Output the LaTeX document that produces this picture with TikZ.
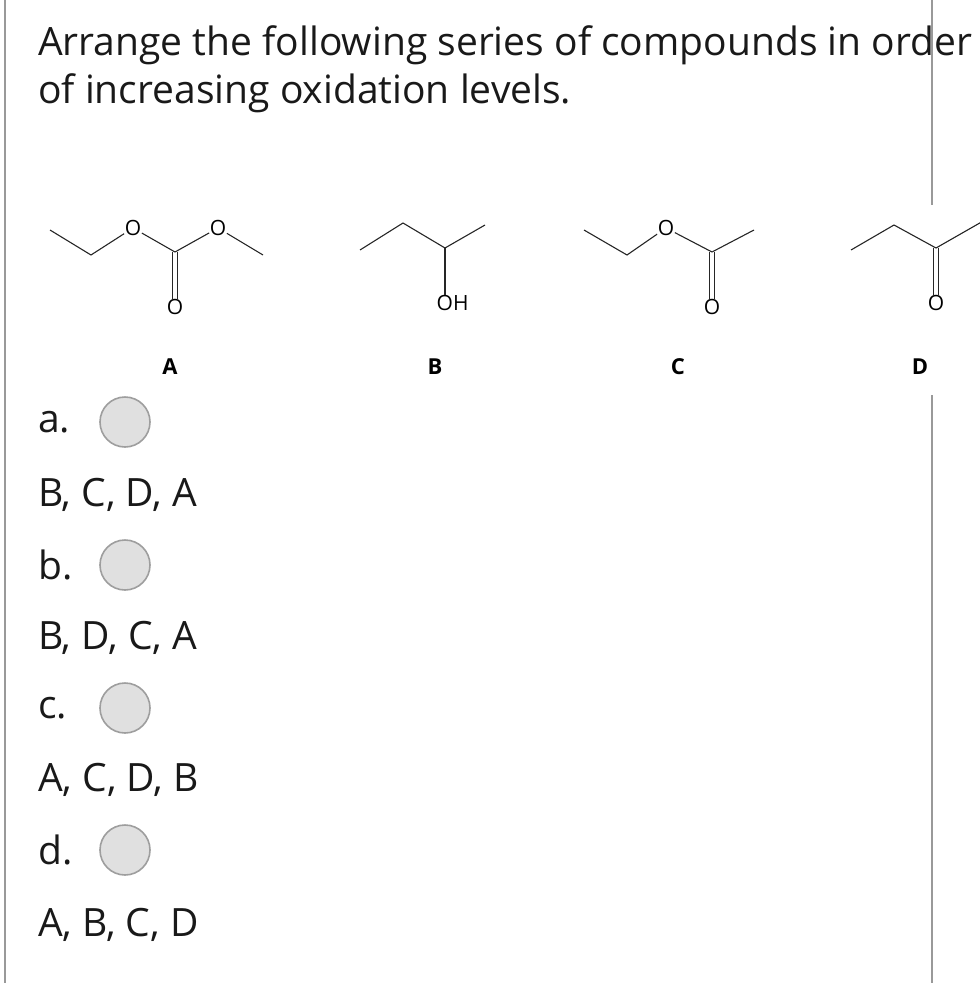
\documentclass[tikz,border=0pt]{standalone}
\usepackage{fontspec}
\setmainfont{Open Sans}
\begin{document}
\begin{tikzpicture}[x=1pt,y=-1pt,
  bond/.style={line width=1.1pt,black!85},
  atom/.style={inner sep=0.5pt,fill=white,font=\fontsize{21}{21}\selectfont},
  lbl/.style={font=\fontsize{22}{22}\selectfont\bfseries},
  qtext/.style={anchor=base west,inner sep=0,font=\fontsize{39}{39}\selectfont,text=black!90},
  otext/.style={anchor=west,inner sep=0,font=\fontsize{39}{39}\selectfont,text=black!90},
  radio/.style={circle,draw=black!38,line width=1.6pt,fill=black!12,minimum size=50pt,inner sep=0}]
\path[use as bounding box] (0,0) rectangle (980,983);
\clip (0,0) rectangle (980,983);
\draw[black!40,line width=2pt] (5,0) -- (5,983);
\draw[black!40,line width=2pt] (932,0) -- (932,205) (932,395) -- (932,983);
\node[qtext] (q1) at (38,55) {Arrange the following series of compounds in order};
\node[qtext] (q2) at (38,103) {of increasing oxidation levels.};
% A
\node[atom] (aO1) at (133,228) {O};
\node[atom] (aO2) at (218,228) {O};
\node[atom] (aO3) at (175,307) {O};
\coordinate (aC) at (175,252);
\draw[bond] (50,230) -- (91,255) -- (aO1) -- (aC) -- (aO2) -- (263,255);
\draw[bond] ([xshift=-2.5pt]aC) -- ([xshift=-2.5pt]aO3.north);
\draw[bond] ([xshift=2.5pt]aC) -- ([xshift=2.5pt]aO3.north);
\node[lbl] (la) at (170,367) {A};
% B
\node[atom,anchor=west] (bOH) at (436,303) {OH};
\coordinate (bC) at (445,248);
\draw[bond] (360,250) -- (403,223) -- (bC) -- (485,225);
\draw[bond] (bC) -- (bC |- bOH.north);
\node[lbl] (lb) at (435,367) {B};
% C
\node[atom] (cO1) at (666,228) {O};
\node[atom] (cO2) at (712,307) {O};
\coordinate (cC) at (712,252);
\draw[bond] (584,230) -- (627,255) -- (cO1) -- (cC) -- (754,230);
\draw[bond] ([xshift=-2.5pt]cC) -- ([xshift=-2.5pt]cO2.north);
\draw[bond] ([xshift=2.5pt]cC) -- ([xshift=2.5pt]cO2.north);
\node[lbl] (lc) at (678,367) {C};
% D
\node[atom] (dO) at (936,303) {O};
\coordinate (dC) at (936,248);
\draw[bond] (851,250) -- (894,225) -- (dC) -- (985,220);
\draw[bond] ([xshift=-2.5pt]dC) -- ([xshift=-2.5pt]dO.north);
\draw[bond] ([xshift=2.5pt]dC) -- ([xshift=2.5pt]dO.north);
\node[lbl] (ld) at (920,367) {D};
% options
\node[otext] (oa) at (38,422) {a.};
\node[radio] (ra) at (125,422) {};
\node[otext] (ta) at (38,495) {B, C, D, A};
\node[otext] (ob) at (38,565) {b.};
\node[radio] (rb) at (125,565) {};
\node[otext] (tb) at (38,638) {B, D, C, A};
\node[otext] (oc) at (38,708) {c.};
\node[radio] (rc) at (125,708) {};
\node[otext] (tc) at (38,780) {A, C, D, B};
\node[otext] (od) at (38,850) {d.};
\node[radio] (rd) at (125,850) {};
\node[otext] (td) at (38,925) {A, B, C, D};
\end{tikzpicture}
\end{document}
